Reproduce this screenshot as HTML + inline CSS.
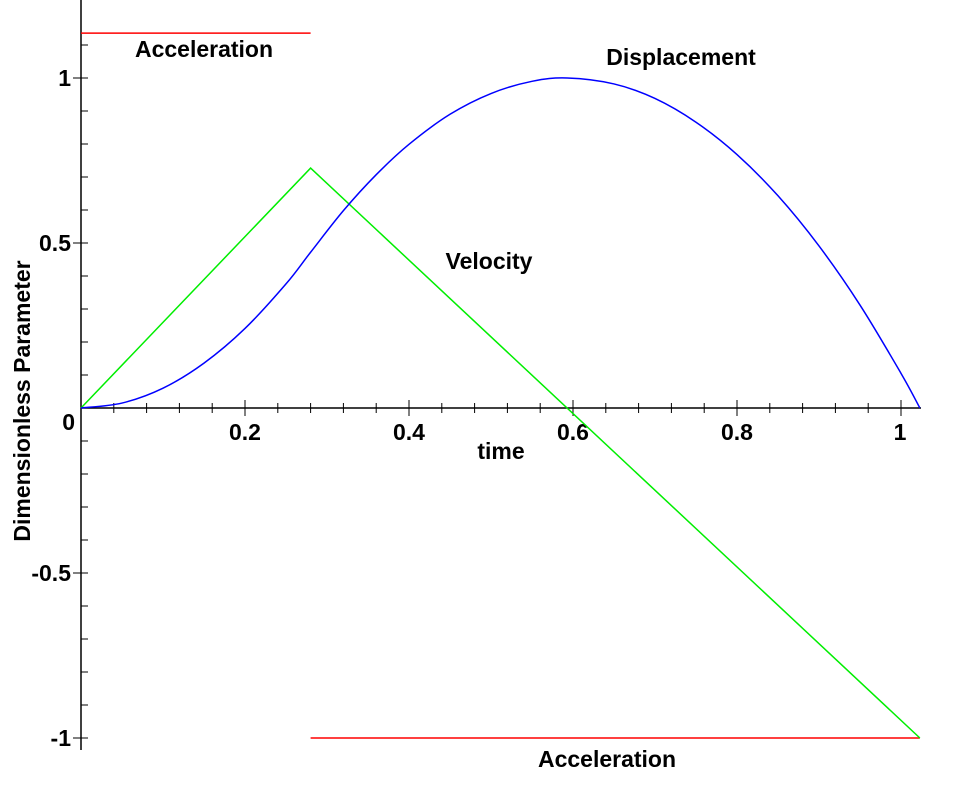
<!DOCTYPE html>
<html><head><meta charset="utf-8"><style>
body{margin:0;background:#fff}
svg{display:block;font-family:"Liberation Sans",Arial,sans-serif;font-weight:bold}
</style></head><body>
<svg id="c" width="953" height="790"></svg>
<script>
const xTicks=[0.2,0.4,0.6,0.8,1];
const xTickLabels=["0.2","0.4","0.6","0.8","1"];
const yTicks=[1,0.5,0,-0.5,-1];
const yTickLabels=["1","0.5","0","-0.5","-1"];
const accelT=[0,0.28,0.28,1.023];
const accelV=[1.136,1.136,-1,-1];
const velT=[0,0.28,1.023];
const velV=[0,0.727,-1];
const dispT=[0,0.05,0.1,0.15,0.2,0.25,0.28,0.32,0.36,0.4,0.45,0.5,0.55,0.593,0.65,0.7,0.75,0.8,0.85,0.9,0.95,1.0,1.023];
const dispV=[0,0.015,0.06,0.136,0.241,0.376,0.472,0.598,0.707,0.799,0.89,0.953,0.99,1.0,0.982,0.938,0.866,0.768,0.643,0.491,0.312,0.105,0];
const X=t=>81+t*820, Y=v=>408-v*330;
const ns="http://www.w3.org/2000/svg", svg=document.getElementById('c');
function mk(tag,attrs,txt){const e=document.createElementNS(ns,tag);for(const k in attrs)e.setAttribute(k,attrs[k]);if(txt!==undefined)e.textContent=txt;svg.appendChild(e);return e;}
const FS=23;
let e;
e=mk('line',{x1:81,y1:0,x2:81,y2:750,stroke:'#000','stroke-width':1.5});


e=mk('line',{x1:81,y1:408,x2:921,y2:408,stroke:'#000','stroke-width':1.5});


for(let i=1;i<=25;i++){const t=i*0.04;const maj=i%5===0;
 e=mk('line',{x1:X(t),x2:X(t),y1:maj?400:403,y2:maj?416:413,stroke:'#000','stroke-width':1});
 
 }
for(let i=-10;i<=11;i++){if(i===0)continue;const v=i*0.1;const maj=i%5===0;
 e=mk('line',{x1:maj?73:81,x2:88,y1:Y(v),y2:Y(v),stroke:'#000','stroke-width':1});
 
 }
xTicks.forEach((t,i)=>{e=mk('text',{x:X(t)+(i===4?-1:0),y:440,'font-size':FS,'text-anchor':'middle'},xTickLabels[i]);
 
 });
yTicks.forEach((v,i)=>{e=mk('text',{x:v===0?75:71,y:Y(v)+8+(v===0?14:0),'font-size':FS,'text-anchor':'end'},yTickLabels[i]);
 
 });
e=mk('text',{x:501,y:459,'font-size':FS,'text-anchor':'middle'},'time');


e=mk('text',{x:0,y:0,'font-size':FS,'text-anchor':'middle',transform:'translate(30,401) rotate(-90)'},'Dimensionless Parameter');


function pts(T,V){return T.map((t,i)=>X(t)+','+Y(V[i])).join(' ');}
e=mk('polyline',{points:accelT.slice(0,2).map((t,i)=>X(t)+','+Y(accelV[i])).join(' '),fill:'none',stroke:'#f00','stroke-width':1.5});


e=mk('polyline',{points:accelT.slice(2).map((t,i)=>X(t)+','+Y(accelV[i+2])).join(' '),fill:'none',stroke:'#f00','stroke-width':1.5});


e=mk('polyline',{points:pts(velT,velV),fill:'none',stroke:'#0e0','stroke-width':1.5});


let P=dispT.map((t,i)=>[X(t),Y(dispV[i])]);let d='M'+P[0];
for(let i=0;i<P.length-1;i++){const p0=P[Math.max(0,i-1)],p1=P[i],p2=P[i+1],p3=P[Math.min(P.length-1,i+2)];
 d+=' C'+(p1[0]+(p2[0]-p0[0])/6)+','+(p1[1]+(p2[1]-p0[1])/6)+' '+(p2[0]-(p3[0]-p1[0])/6)+','+(p2[1]-(p3[1]-p1[1])/6)+' '+p2[0]+','+p2[1];}
e=mk('path',{d:d,fill:'none',stroke:'#00f','stroke-width':1.5});


e=mk('text',{x:204,y:57,'font-size':FS,'text-anchor':'middle'},'Acceleration');


e=mk('text',{x:607,y:767,'font-size':FS,'text-anchor':'middle'},'Acceleration');


e=mk('text',{x:681,y:65,'font-size':FS,'text-anchor':'middle'},'Displacement');


e=mk('text',{x:489,y:269,'font-size':FS,'text-anchor':'middle'},'Velocity');


</script>
</body></html>
